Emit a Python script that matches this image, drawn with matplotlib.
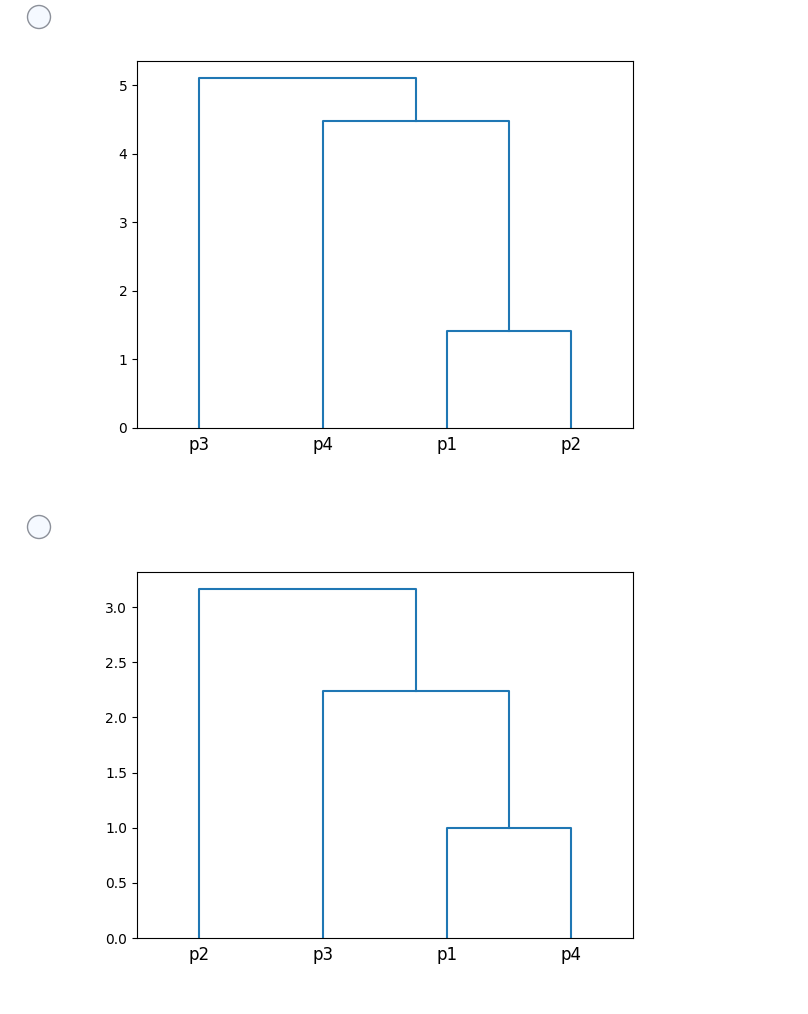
import matplotlib
matplotlib.use("Agg")
import matplotlib.pyplot as plt
from matplotlib.patches import Circle

# --- data ---
top_leaves = ["p3", "p4", "p1", "p2"]
top_merges = [(2, 3), (1, 4), (0, 5)]
top_heights = [1.41, 4.48, 5.10]

bottom_leaves = ["p2", "p3", "p1", "p4"]
bottom_merges = [(2, 3), (1, 4), (0, 5)]
bottom_heights = [1.0, 2.24, 3.16]

W, H = 808, 1014
fig = plt.figure(figsize=(W / 100, H / 100), dpi=100)


def draw_dendro(ax, leaves, merges, heights):
    xs = [5 + 10 * i for i in range(len(leaves))]
    ys = [0.0] * len(leaves)
    for (a, b), h in zip(merges, heights):
        ax.plot([xs[a], xs[a], xs[b], xs[b]], [ys[a], h, h, ys[b]],
                color="#1f77b4", lw=1.5)
        xs.append((xs[a] + xs[b]) / 2)
        ys.append(h)
    ax.set_xlim(0, 10 * len(leaves))
    ax.set_ylim(0, max(heights) * 1.05)
    ax.set_xticks([5 + 10 * i for i in range(len(leaves))])
    ax.set_xticklabels(leaves, fontsize=12)
    ax.tick_params(axis="x", length=0, pad=6)
    ax.tick_params(axis="y", labelsize=10)


# axes placed from pixel edges: left, top, right, bottom
ax1 = fig.add_axes([137 / W, 1 - 428 / H, (633 - 137) / W, (428 - 61) / H])
draw_dendro(ax1, top_leaves, top_merges, top_heights)

ax2 = fig.add_axes([137 / W, 1 - 938 / H, (633 - 137) / W, (938 - 572) / H])
draw_dendro(ax2, bottom_leaves, bottom_merges, bottom_heights)
ax2.set_yticks([0, 0.5, 1.0, 1.5, 2.0, 2.5, 3.0])
ax2.set_yticklabels(["0.0", "0.5", "1.0", "1.5", "2.0", "2.5", "3.0"])

# radio-button circles (inches, so they stay round)
for cy in (17, 527):
    fig.patches.append(Circle((39 / 100, (H - cy) / 100), 11.5 / 100,
                              transform=fig.dpi_scale_trans,
                              facecolor="#f5f9ff", edgecolor="#8c9099", lw=1.0))

fig.savefig("out.png", dpi=100)
